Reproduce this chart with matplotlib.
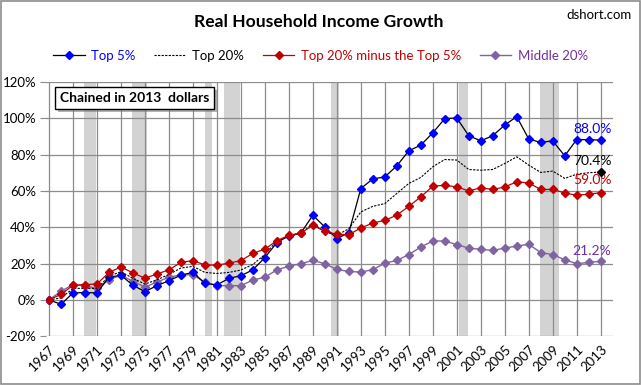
import numpy as np
import matplotlib.pyplot as plt
import matplotlib.patheffects as pe
import matplotlib.transforms as mtransforms
from matplotlib.lines import Line2D
from matplotlib.patches import Rectangle

plt.rcParams['font.family'] = ['Lato', 'DejaVu Sans']

years = np.arange(1967, 2014)
top5 = [0, -2.5, 3.8, 4.0, 3.8, 12.5, 13.5, 8.0, 4.5, 7.8, 10.5, 13.6, 15.1, 9.1, 8.2, 11.8,
        13.3, 16.5, 23.3, 31.5, 35.3, 36.8, 46.6, 40.1, 33.7, 37.0, 61.3, 66.6, 67.7, 73.8,
        82.1, 85.2, 92.0, 99.8, 100.2, 90.4, 87.6, 90.4, 96.3, 100.9, 88.6, 86.7, 87.6, 79.3,
        88.3, 88.2, 88.0]
top20 = [0, 1.0, 6.2, 6.4, 6.2, 13.0, 15.5, 11.8, 8.7, 11.0, 14.0, 17.5, 18.4, 15.1, 14.5, 15.1,
         16.4, 19.5, 25.0, 32.4, 35.0, 36.5, 42.0, 37.4, 35.5, 39.2, 48.4, 51.5, 53.0, 58.6,
         64.1, 67.4, 73.3, 77.3, 77.0, 71.8, 71.4, 71.8, 75.1, 78.8, 74.2, 70.2, 70.9, 66.9,
         69.2, 70.0, 70.4]
top20_minus5 = [0, 3.0, 8.0, 8.4, 8.7, 15.1, 18.1, 14.8, 11.9, 14.2, 16.5, 20.6, 21.6, 19.2, 19.1,
                20.2, 21.6, 25.6, 27.9, 32.6, 35.5, 36.8, 41.0, 37.7, 36.1, 35.9, 39.6, 42.3, 43.8,
                46.6, 51.5, 56.7, 62.6, 63.1, 62.2, 60.0, 61.7, 60.8, 62.2, 65.0, 64.4, 60.8, 60.8,
                58.9, 57.6, 58.2, 59.0]
middle20 = [0, 4.7, 8.4, 7.6, 6.3, 11.1, 13.5, 10.2, 7.0, 9.8, 12.4, 13.8, 13.8, 9.6, 7.8, 7.8,
            7.8, 10.9, 12.4, 16.5, 18.5, 19.9, 21.7, 19.9, 16.7, 15.6, 15.3, 16.6, 20.2, 21.7,
            24.9, 29.1, 32.4, 32.4, 30.4, 28.5, 27.8, 27.2, 28.5, 29.6, 30.6, 26.0, 24.9, 22.1,
            19.9, 20.6, 21.2]
recessions = [(1969.92, 1970.92), (1973.88, 1975.2), (1980.0, 1980.55), (1981.55, 1982.9),
              (1990.55, 1991.2), (2001.2, 2001.9), (2007.95, 2009.5)]

blue = '#0000FF'
red = '#C00000'
purple = '#8064A2'
purple_txt = '#7030A0'

fig = plt.figure(figsize=(6.41, 3.85), dpi=100)
ax = fig.add_axes([0.0718, 0.127, 0.884, 0.660])

for a, b in recessions:
    ax.axvspan(a, b, color='#D3D3D3', lw=0, zorder=0)

ax.plot(years, top5, color='black', lw=0.9, marker='D', ms=4.0, mfc=blue, mec=blue, zorder=3)
ax.plot(years, top20, color='black', lw=0.8, ls=(0, (2, 1.2)), zorder=3)
ax.plot(years[-1], top20[-1], marker='D', ms=4.0, color='black', zorder=4)
ax.plot(years, top20_minus5, color=red, lw=0.9, marker='D', ms=4.0, mfc=red, mec=red, zorder=3)
ax.plot(years, middle20, color=purple, lw=1.0, marker='D', ms=4.0, mfc=purple, mec=purple, zorder=2)

ax.set_xlim(1966.75, 2014)
ax.set_ylim(-20, 120)
ax.set_yticks(np.arange(-20, 121, 20))
ax.set_yticklabels([f'{v}%' for v in range(-20, 121, 20)])
ax.set_xticks(years[::2])
ax.set_xticklabels([str(y) for y in years[::2]], rotation=45, ha='right', rotation_mode='anchor')
shift = mtransforms.ScaledTranslation(8 / 100, 0, fig.dpi_scale_trans)
for lab in ax.get_xticklabels():
    lab.set_transform(lab.get_transform() + shift)
ax.grid(True, color='#8C8C8C', lw=0.9, zorder=1)
ax.set_axisbelow(True)
for s in ax.spines.values():
    s.set_visible(False)
ax.tick_params(axis='x', length=0, pad=5, labelsize=9.5)
ax.tick_params(axis='y', length=4, color='#8C8C8C', pad=3, labelsize=9.5)

# end labels
ax.text(2013.9, top5[-1] + 3, f'{top5[-1]:.1f}%', color=blue, fontsize=10, ha='right', va='bottom')
ax.text(2013.9, top20[-1] + 2.5, f'{top20[-1]:.1f}%', color='black', fontsize=10, ha='right', va='bottom')
ax.text(2013.9, top20_minus5[-1] + 3.5, f'{top20_minus5[-1]:.1f}%', color=red, fontsize=10, ha='right',
        va='bottom')
ax.text(2013.9, middle20[-1] + 2.5, f'{middle20[-1]:.1f}%', color=purple_txt, fontsize=10, ha='right',
        va='bottom')

t = ax.text(1967.9, 111, 'Chained in 2013  dollars', fontsize=10, fontweight='bold', va='center',
            ha='left', zorder=6,
            bbox=dict(boxstyle='square,pad=0.35', fc='white', ec='black', lw=1.0))
t.get_bbox_patch().set_path_effects([pe.withSimplePatchShadow(offset=(2, -2), shadow_rgbFace='gray', alpha=0.6)])

fig.text(0.497, 0.943, 'Real Household Income Growth', ha='center', va='center', fontsize=12.6,
         fontweight='bold')
fig.text(0.985, 0.962, 'dshort.com', ha='right', va='center', fontsize=9.5)

handles = [
    Line2D([], [], color='black', lw=0.9, marker='D', ms=4, mfc=blue, mec=blue),
    Line2D([], [], color='black', lw=0.8, ls=(0, (2, 1.2))),
    Line2D([], [], color=red, lw=0.9, marker='D', ms=4, mfc=red, mec=red),
    Line2D([], [], color=purple, lw=1.0, marker='D', ms=4, mfc=purple, mec=purple),
]
labels = ['Top 5%', 'Top 20%', 'Top 20% minus the Top 5%', 'Middle 20%']
leg = fig.legend(handles, labels, loc='center', bbox_to_anchor=(0.5, 0.855), ncol=4, frameon=False,
                 fontsize=9.5, handlelength=2.4, columnspacing=1.4, handletextpad=0.5)
for txt, c in zip(leg.get_texts(), [blue, 'black', red, purple_txt]):
    txt.set_color(c)

fig.patches.append(Rectangle((0.001, 0.002), 0.997, 0.995, transform=fig.transFigure, fill=False,
                             ec='#8C8C8C', lw=1.2))

fig.savefig('out.png', dpi=100)
